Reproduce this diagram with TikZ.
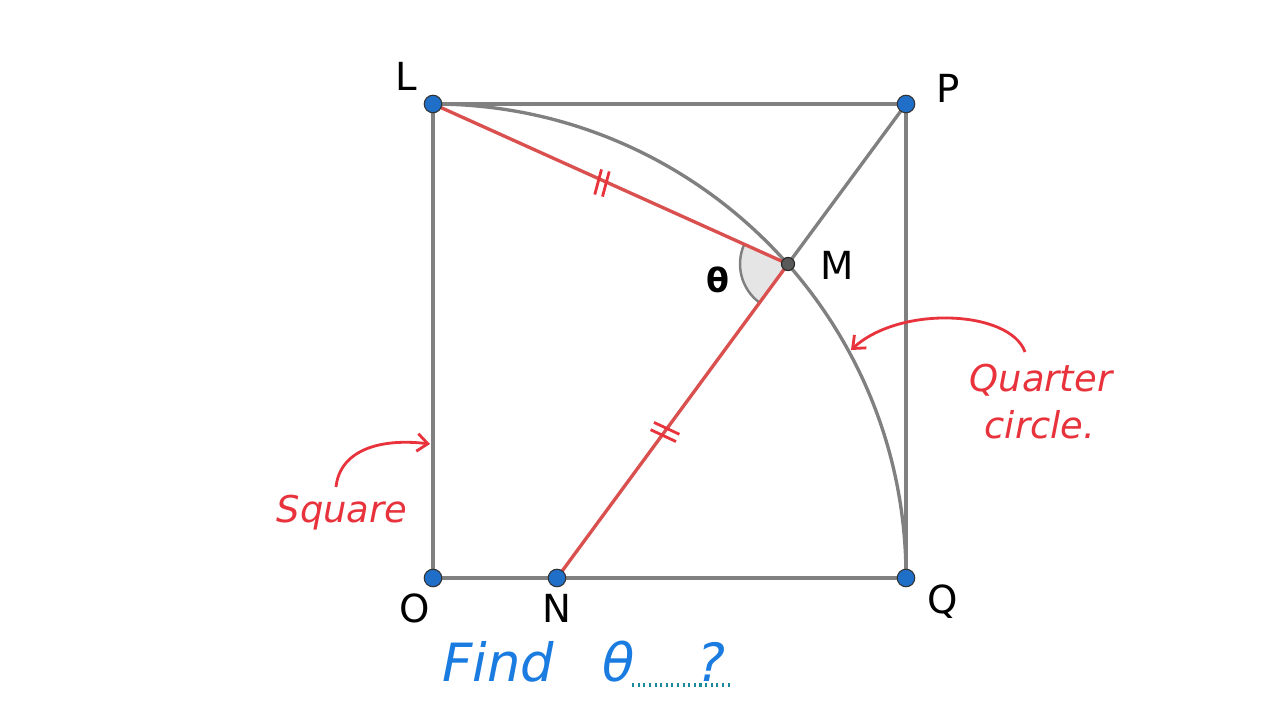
\documentclass[tikz,border=0pt]{standalone}
\usepackage{fontspec}
\setmainfont{DejaVu Sans}
\usetikzlibrary{arrows.meta}
\definecolor{edgegray}{HTML}{808080}
\definecolor{segred}{HTML}{D9504F}
\definecolor{annred}{HTML}{E8323C}
\definecolor{dotblue}{HTML}{1F6FC9}
\definecolor{findblue}{HTML}{1A7BE0}
\definecolor{teal}{HTML}{1A8A9A}
\tikzset{
  edge/.style={draw=edgegray, line width=1.9pt},
  seg/.style={draw=segred, line width=1.9pt},
  vdot/.style={circle, fill=dotblue, draw=black!80, line width=0.6pt, inner sep=0pt, minimum size=10pt},
  mdot/.style={circle, fill=black!65, draw=black!85, line width=0.6pt, inner sep=0pt, minimum size=7.5pt},
  lab/.style={font=\fontsize{22}{24}\selectfont, text=black},
  ann/.style={font=\fontsize{21}{24}\selectfont\itshape, text=annred},
  annarrow/.style={draw=annred, line width=1.6pt, -{Straight Barb[length=6pt,width=10pt]}},
  tick/.style={draw=annred, line width=1.6pt}
}
\begin{document}
\begin{tikzpicture}[x=0.02cm, y=0.02cm]
\useasboundingbox (0,0) rectangle (1280,720);
\fill[white] (0,0) rectangle (1280,720);
% points
\coordinate (O) at (433,142);
\coordinate (L) at (433,616);
\coordinate (P) at (906,616);
\coordinate (Q) at (906,142);
\coordinate (N) at (557,142);
\coordinate (M) at (788,456);
% angle
\fill[black!10] (M) -- ++(155.7:48) arc[start angle=155.7, end angle=233.7, radius=48] -- cycle;
\draw[edgegray, line width=1.4pt] (M) ++(155.7:48) arc[start angle=155.7, end angle=233.7, radius=48];
% square
\draw[edge] (O) -- (L) -- (P) -- (Q) -- cycle;
% quarter circle
\draw[edge] (L) arc[start angle=90, end angle=0, radius=473];
% PM
\draw[edge] (P) -- (M);
% red segments
\draw[seg] (L) -- (M);
\draw[seg] (M) -- (N);
% ticks on LM
\begin{scope}[shift={(602,537)}, rotate=-15]
\draw[tick] (-4,-13) -- (-4,13);
\draw[tick] (4,-13) -- (4,13);
\end{scope}
% ticks on MN
\begin{scope}[shift={(665,288)}, rotate=65]
\draw[tick] (-4,-14) -- (-4,14);
\draw[tick] (4,-14) -- (4,14);
\end{scope}
% dots
\node[vdot] (dL) at (L) {};
\node[vdot] (dP) at (P) {};
\node[vdot] (dO) at (O) {};
\node[vdot] (dN) at (N) {};
\node[vdot] (dQ) at (Q) {};
\node[mdot] (dM) at (M) {};
% labels
\node[lab] (tL) at (406,644) {L};
\node[lab] (tP) at (948,632) {P};
\node[lab] (tM) at (837,455) {M};
\node[lab, font=\fontsize{19}{20}\selectfont\bfseries] (tth) at (718,440) {θ};
\node[lab] (tO) at (415,112) {O};
\node[lab] (tN) at (557,112) {N};
\node[lab] (tQ) at (943,118) {Q};
% annotations
\node[ann] (tQuarter) at (1041,340) {Quarter};
\node[ann] (tCircle) at (1040,295) {circle.};
\coordinate (qa) at (1025,368);
\coordinate (qb) at (851,370);
\draw[annarrow] (qa) .. controls (1010,410) and (900,415) .. (qb);
\node[ann] (tSquare) at (342,207) {Square};
\coordinate (sa) at (336,233);
\coordinate (sb) at (430,276);
\draw[annarrow] (sa) .. controls (340,270) and (380,282) .. (sb);
\node[font=\fontsize{30}{34}\selectfont\itshape, text=findblue, anchor=west] (tFind) at (436,58) {Find \hspace{0.6em}θ\hspace{1.2em}?};
\coordinate (ua) at (632,35);
\coordinate (ub) at (730,35);
\draw[teal, line width=1.8pt, dash pattern=on 1.2pt off 2pt] (ua) -- (ub);
\end{tikzpicture}
\end{document}
